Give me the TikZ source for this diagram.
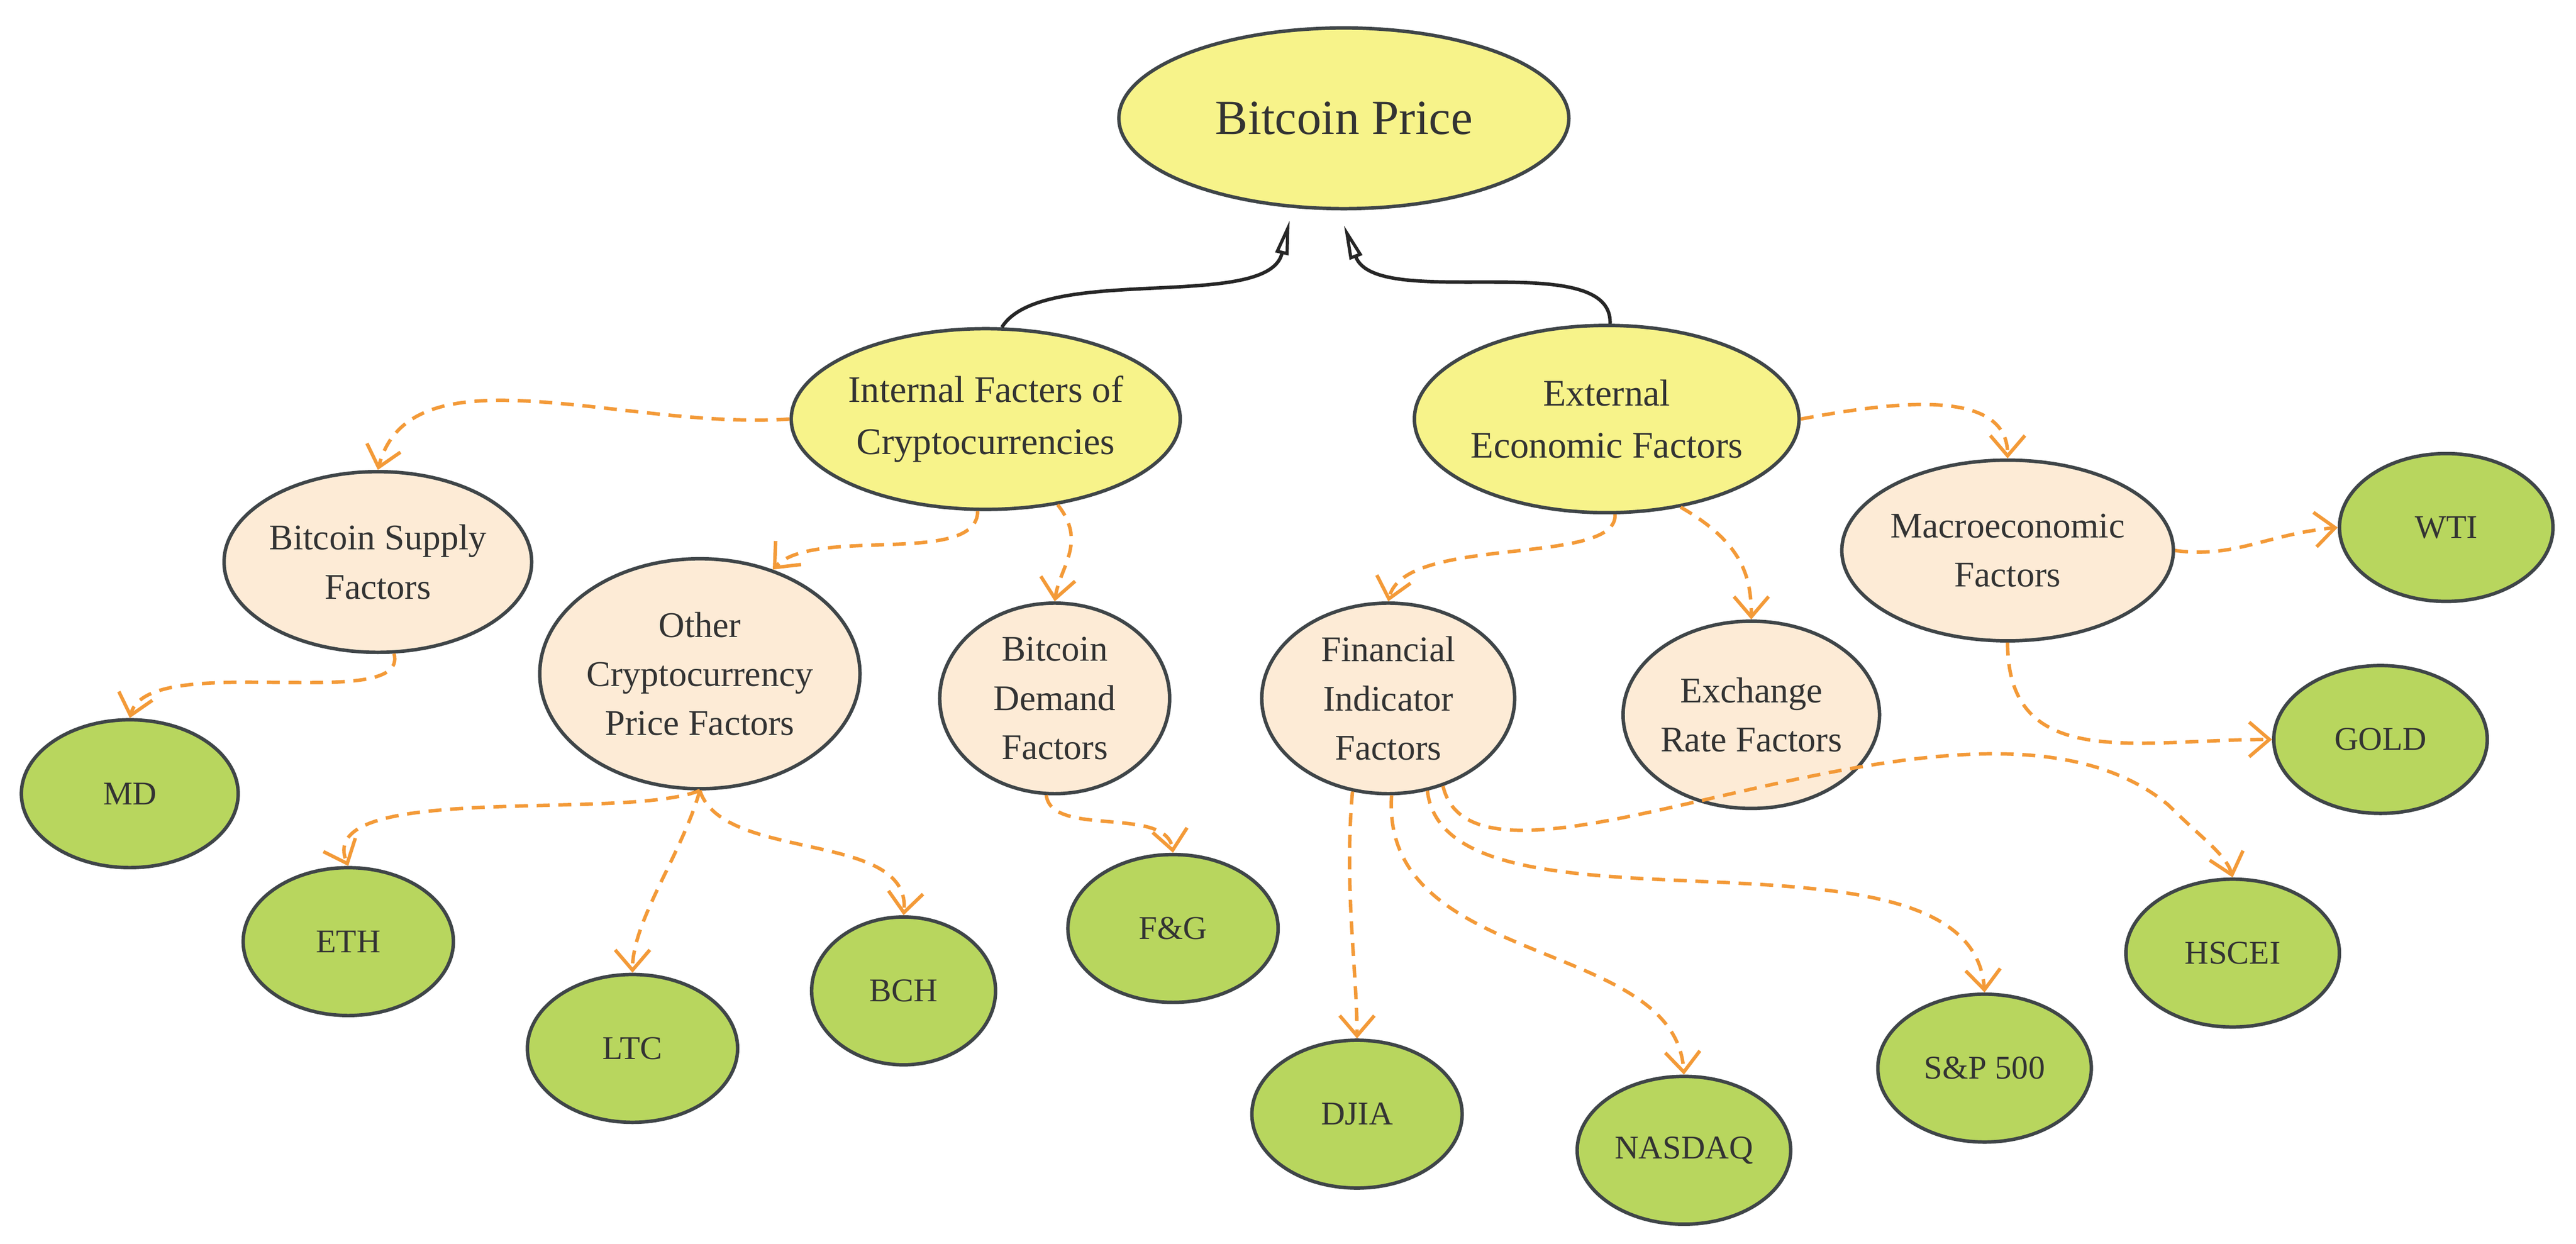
\documentclass[tikz,border=0pt]{standalone}
\usepackage{fontspec}
\setmainfont{Liberation Serif}
\usetikzlibrary{shapes.geometric,arrows.meta}
\definecolor{yel}{HTML}{F7F38A}
\definecolor{pch}{HTML}{FDEBD6}
\definecolor{grn}{HTML}{B8D65E}
\definecolor{bd}{HTML}{3F4548}
\definecolor{org}{HTML}{F39A38}
\begin{document}
\begin{tikzpicture}[x=0.02cm,y=-0.02cm,
 el/.style 2 args={ellipse,draw=bd,line width=1.2pt,minimum width=#1*0.04cm,minimum height=#2*0.04cm,inner sep=0pt,align=center,text=black!80},
 y1/.style={fill=yel},p1/.style={fill=pch,font=\fontsize{12.5}{15}\selectfont},g1/.style={fill=grn,font=\fontsize{11.5}{14}\selectfont},
 oa/.style={draw=org,line width=1.2pt,dash pattern=on 4.5pt off 3pt,-{Straight Barb[length=7pt,width=12pt,line width=1.2pt]}},
 ba/.style={draw=black!85,line width=1.2pt,-{Triangle[open,length=12pt,width=4.5pt,line width=1.1pt]}}]
\useasboundingbox (0,0) rectangle (1568,757);
\node[el={137}{55},y1,font=\fontsize{17}{20}\selectfont] (bp) at (818,72) {Bitcoin Price};
\node[el={105}{55},y1,font=\fontsize{13}{16}\selectfont] (int) at (600,255) {Internal Facters of\\[2pt]Cryptocurrencies};
\node[el={95}{57},y1,font=\fontsize{13}{16}\selectfont] (ext) at (978,255) {External\\[2pt]Economic Factors};
\node[el={73}{55},p1] (sup) at (230,342) {Bitcoin Supply\\[2pt]Factors};
\node[el={93}{70},p1] (oth) at (426,410) {Other\\[2pt]Cryptocurrency\\[2pt]Price Factors};
\node[el={70}{58},p1] (dem) at (642,425) {Bitcoin\\[2pt]Demand\\[2pt]Factors};
\node[el={77}{58},p1] (fin) at (845,425) {Financial\\[2pt]Indicator\\[2pt]Factors};
\node[el={76}{57},p1] (exc) at (1066,435) {Exchange\\[2pt]Rate Factors};
\node[el={86}{55},p1] (mac) at (1222,335) {Macroeconomic\\[2pt]Factors};
\node[el={65}{45},g1] (wti) at (1489,321) {WTI};
\node[el={65}{45},g1] (gold) at (1449,450) {GOLD};
\node[el={66}{45},g1] (md) at (79,483) {MD};
\node[el={64}{45},g1] (eth) at (212,573) {ETH};
\node[el={64}{45},g1] (ltc) at (385,638) {LTC};
\node[el={56}{45},g1] (bch) at (550,603) {BCH};
\node[el={64}{45},g1] (fg) at (714,565) {F\&G};
\node[el={64}{45},g1] (dj) at (826,678) {DJIA};
\node[el={65}{45},g1] (nas) at (1025,700) {NASDAQ};
\node[el={65}{45},g1] (sp) at (1208,650) {S\&P 500};
\node[el={65}{45},g1] (hs) at (1359,580) {HSCEI};
\coordinate (t1) at (785,134);
\coordinate (t2) at (818,137);
\draw[ba] (int.80) .. controls (634,160) and (772,190) .. (t1);
\draw[ba] (ext.88) .. controls (982,150) and (838,190) .. (t2);
\draw[oa] (int.west) .. controls (380,262) and (250,210) .. (sup.north);
\draw[oa] (sup.-80) .. controls (250,435) and (90,395) .. (md.north);
\draw[oa] (int.-95) .. controls (595,345) and (495,320) .. (oth.55);
\draw[oa] (int.-50) .. controls (662,330) and (645,345) .. (dem.north);
\draw[oa] (oth.-90) .. controls (380,500) and (190,475) .. (eth.north);
\draw[oa] (oth.-90) .. controls (415,520) and (385,560) .. (ltc.north);
\draw[oa] (oth.-90) .. controls (440,525) and (555,505) .. (bch.north);
\draw[oa] (dem.-95) .. controls (640,510) and (710,490) .. (fg.north);
\draw[oa] (ext.-85) .. controls (985,345) and (855,325) .. (fin.north);
\draw[oa] (ext.-50) .. controls (1060,330) and (1066,350) .. (exc.north);
\draw[oa] (ext.east) .. controls (1150,245) and (1222,235) .. (mac.north);
\draw[oa] (mac.east) .. controls (1360,340) and (1380,325) .. (wti.west);
\draw[oa] (mac.south) .. controls (1222,470) and (1300,450) .. (gold.west);
\draw[oa] (fin.-111) .. controls (818,540) and (826,590) .. (dj.north);
\draw[oa] (fin.-88) .. controls (840,590) and (1020,570) .. (nas.north);
\draw[oa] (fin.-67) .. controls (880,580) and (1200,490) .. (sp.north);
\draw[oa] (fin.-58) .. controls (900,570) and (1200,390) .. (1320,490) .. controls (1340,510) and (1355,520) .. (hs.north);
\end{tikzpicture}
\end{document}
